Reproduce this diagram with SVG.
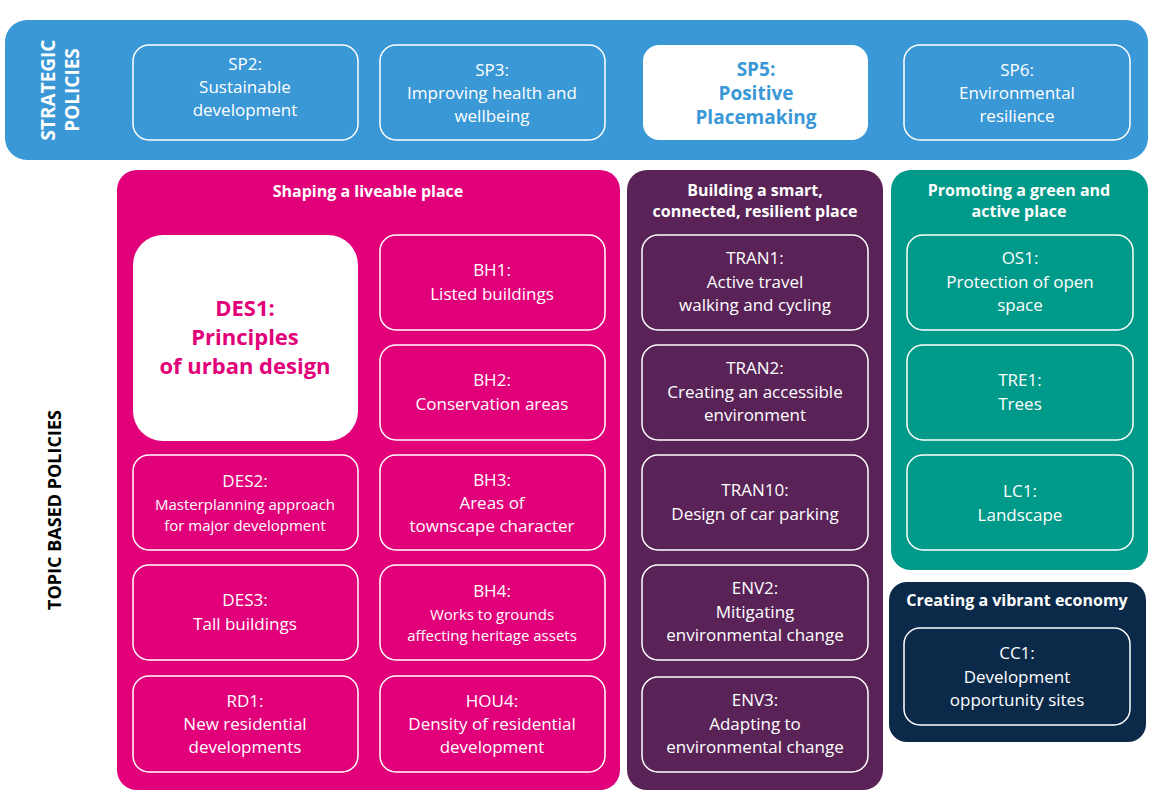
<svg xmlns="http://www.w3.org/2000/svg" width="1161" height="795" viewBox="0 0 1161 795">
<style>
text{font-family:"Open Sans","DejaVu Sans",sans-serif;text-anchor:middle;fill:#fff}
.t{font-size:17px}
.h{font-size:16px;font-weight:bold}
.b{fill:none;stroke:#fff;stroke-width:1.5}
.s{font-size:17px}
</style>
<rect width="1161" height="795" fill="#fff"/>
<g id="strategic">
<rect x="5" y="20" width="1143" height="140" rx="22" fill="#3a98d6"/>
<text transform="translate(62,90) rotate(-90)" style="font-size:19px;font-weight:bold"><tspan x="0" y="-7">STRATEGIC</tspan><tspan x="0" y="17">POLICIES</tspan></text>
</g>
<g id="sp2"><rect class="b" x="133" y="45" width="225" height="95" rx="16"/><text class="s"><tspan x="245" y="70">SP2:</tspan><tspan x="245" y="93">Sustainable</tspan><tspan x="245" y="116">development</tspan></text></g>
<g id="sp3"><rect class="b" x="380" y="45" width="225" height="95" rx="16"/><text class="s"><tspan x="492" y="76">SP3:</tspan><tspan x="492" y="99">Improving health and</tspan><tspan x="492" y="122">wellbeing</tspan></text></g>
<g id="sp5"><rect x="643" y="45" width="225" height="95" rx="16" fill="#fff"/><text style="font-size:19px;font-weight:bold;fill:#3a98d6"><tspan x="756" y="76">SP5:</tspan><tspan x="756" y="100">Positive</tspan><tspan x="756" y="124">Placemaking</tspan></text></g>
<g id="sp6"><rect class="b" x="904" y="45" width="226" height="95" rx="16"/><text class="s"><tspan x="1017" y="76">SP6:</tspan><tspan x="1017" y="99">Environmental</tspan><tspan x="1017" y="122">resilience</tspan></text></g>
<text transform="translate(61,510) rotate(-90)" style="font-size:18px;font-weight:bold;fill:#000">TOPIC BASED POLICIES</text>
<g id="liveable">
<rect x="117" y="170" width="503" height="620" rx="20" fill="#e2007a"/>
<text class="h" x="368" y="197">Shaping a liveable place</text>
</g>
<g id="des1"><rect x="133" y="235" width="225" height="206" rx="30" fill="#fff"/><text style="font-size:22px;font-weight:bold;fill:#e2007a"><tspan x="245" y="316">DES1:</tspan><tspan x="245" y="345">Principles</tspan><tspan x="245" y="374">of urban design</tspan></text></g>
<g id="bh1"><rect class="b" x="380" y="235" width="225" height="95" rx="16"/><text class="t"><tspan x="492" y="276">BH1:</tspan><tspan x="492" y="300">Listed buildings</tspan></text></g>
<g id="bh2"><rect class="b" x="380" y="345" width="225" height="95" rx="16"/><text class="t"><tspan x="492" y="386">BH2:</tspan><tspan x="492" y="410">Conservation areas</tspan></text></g>
<g id="des2"><rect class="b" x="133" y="455" width="225" height="95" rx="16"/><text><tspan x="245" y="487" class="t">DES2:</tspan><tspan x="245" y="510" style="font-size:15px">Masterplanning approach</tspan><tspan x="245" y="531" style="font-size:15px">for major development</tspan></text></g>
<g id="bh3"><rect class="b" x="380" y="455" width="225" height="95" rx="16"/><text class="t"><tspan x="492" y="486">BH3:</tspan><tspan x="492" y="509">Areas of</tspan><tspan x="492" y="532">townscape character</tspan></text></g>
<g id="des3"><rect class="b" x="133" y="565" width="225" height="95" rx="16"/><text class="t"><tspan x="245" y="606">DES3:</tspan><tspan x="245" y="630">Tall buildings</tspan></text></g>
<g id="bh4"><rect class="b" x="380" y="565" width="225" height="95" rx="16"/><text><tspan x="492" y="597" class="t">BH4:</tspan><tspan x="492" y="620" style="font-size:15px">Works to grounds</tspan><tspan x="492" y="641" style="font-size:15px">affecting heritage assets</tspan></text></g>
<g id="rd1"><rect class="b" x="133" y="676" width="225" height="96" rx="16"/><text class="t"><tspan x="245" y="707">RD1:</tspan><tspan x="245" y="730">New residential</tspan><tspan x="245" y="753">developments</tspan></text></g>
<g id="hou4"><rect class="b" x="380" y="676" width="225" height="96" rx="16"/><text class="t"><tspan x="492" y="707">HOU4:</tspan><tspan x="492" y="730">Density of residential</tspan><tspan x="492" y="753">development</tspan></text></g>
<g id="smart">
<rect x="627" y="170" width="256" height="620" rx="20" fill="#5a2358"/>
<text class="h"><tspan x="755" y="196">Building a smart,</tspan><tspan x="755" y="217">connected, resilient place</tspan></text>
</g>
<g id="tran1"><rect class="b" x="642" y="235" width="226" height="95" rx="16"/><text class="t"><tspan x="755" y="264">TRAN1:</tspan><tspan x="755" y="288">Active travel</tspan><tspan x="755" y="311">walking and cycling</tspan></text></g>
<g id="tran2"><rect class="b" x="642" y="345" width="226" height="95" rx="16"/><text class="t"><tspan x="755" y="374">TRAN2:</tspan><tspan x="755" y="398">Creating an accessible</tspan><tspan x="755" y="421">environment</tspan></text></g>
<g id="tran10"><rect class="b" x="642" y="455" width="226" height="95" rx="16"/><text class="t"><tspan x="755" y="496">TRAN10:</tspan><tspan x="755" y="520">Design of car parking</tspan></text></g>
<g id="env2"><rect class="b" x="642" y="565" width="226" height="95" rx="16"/><text class="t"><tspan x="755" y="594">ENV2:</tspan><tspan x="755" y="618">Mitigating</tspan><tspan x="755" y="641">environmental change</tspan></text></g>
<g id="env3"><rect class="b" x="642" y="677" width="226" height="95" rx="16"/><text class="t"><tspan x="755" y="706">ENV3:</tspan><tspan x="755" y="730">Adapting to</tspan><tspan x="755" y="753">environmental change</tspan></text></g>
<g id="green">
<rect x="891" y="170" width="257" height="400" rx="20" fill="#009a8a"/>
<text class="h"><tspan x="1019" y="196">Promoting a green and</tspan><tspan x="1019" y="217">active place</tspan></text>
</g>
<g id="os1"><rect class="b" x="907" y="235" width="226" height="95" rx="16"/><text class="t"><tspan x="1020" y="264">OS1:</tspan><tspan x="1020" y="288">Protection of open</tspan><tspan x="1020" y="311">space</tspan></text></g>
<g id="tre1"><rect class="b" x="907" y="345" width="226" height="95" rx="16"/><text class="t"><tspan x="1020" y="386">TRE1:</tspan><tspan x="1020" y="410">Trees</tspan></text></g>
<g id="lc1"><rect class="b" x="907" y="455" width="226" height="95" rx="16"/><text class="t"><tspan x="1020" y="497">LC1:</tspan><tspan x="1020" y="521">Landscape</tspan></text></g>
<g id="economy">
<rect x="889" y="582" width="257" height="160" rx="18" fill="#0b2a4a"/>
<text class="h" x="1017" y="606">Creating a vibrant economy</text>
</g>
<g id="cc1"><rect class="b" x="904" y="628" width="226" height="97" rx="16"/><text class="t"><tspan x="1017" y="659">CC1:</tspan><tspan x="1017" y="683">Development</tspan><tspan x="1017" y="706">opportunity sites</tspan></text></g>
<g id="connectors"></g>
</svg>
